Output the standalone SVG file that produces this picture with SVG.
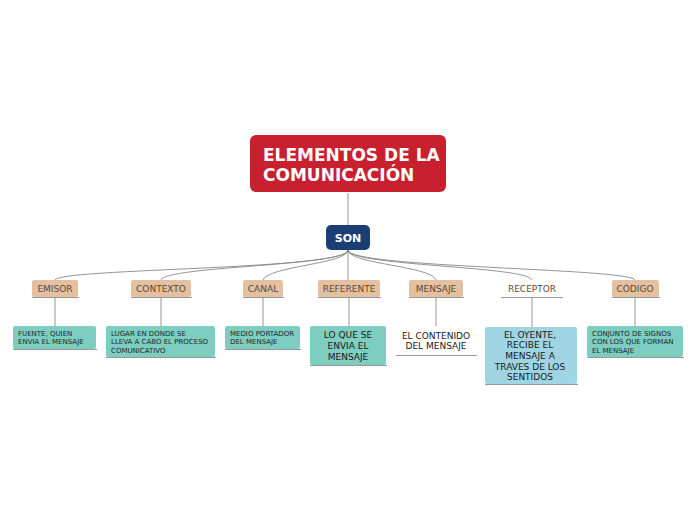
<svg xmlns="http://www.w3.org/2000/svg" width="696" height="520" viewBox="0 0 696 520">
<style>
text{font-family:"DejaVu Sans",Verdana,sans-serif}
.cat{fill:#e3c0a0}
.ct{font-size:9px;fill:#5a4a3a;text-anchor:middle}
.ul{stroke:#999;stroke-width:1.2}
.c{fill:none;stroke:#888;stroke-width:0.9}
.t7{font-size:7px;fill:#1a2a2a}
.t9{font-size:9px;fill:#1a1a1a;text-anchor:middle}
.teal{fill:#7dcdc1}
</style>
<rect width="696" height="520" fill="#fff"/>
<g id="connectors">
<path class="c" d="M348 193V225"/>
<path class="c" d="M348 250C348 270 60 268 55 280"/>
<path class="c" d="M348 250C348 266 165 266 161 280"/>
<path class="c" d="M348 250C348 264 268 266 263 280"/>
<path class="c" d="M348 250V280"/>
<path class="c" d="M348 250C348 264 432 266 436 280"/>
<path class="c" d="M348 250C348 266 528 266 532 280"/>
<path class="c" d="M348 250C348 268 630 268 635 280"/>
<path class="c" d="M55 298V326M161 298V326M263 298V326M349 298V326M436 298V326M532 298V327M635 298V326"/>
</g>
<g id="title"><rect x="250" y="135" width="196" height="57" rx="6" fill="#c8202f"/>
<text x="263" y="161" font-size="17" font-weight="bold" fill="#fff">ELEMENTOS DE LA</text>
<text x="263" y="181" font-size="17" font-weight="bold" fill="#fff">COMUNICACIÓN</text></g>
<g id="son"><rect x="326" y="225" width="44" height="25" rx="5" fill="#1b3f73"/>
<text x="348" y="242" font-size="11" font-weight="bold" fill="#fff" text-anchor="middle">SON</text></g>
<g id="emisor"><rect class="cat" x="32" y="280" width="46" height="17" rx="2"/><path class="ul" d="M32 297.5H79"/><text class="ct" x="55" y="292">EMISOR</text></g>
<g id="contexto"><rect class="cat" x="131" y="280" width="60" height="17" rx="2"/><path class="ul" d="M131 297.5H192"/><text class="ct" x="161" y="292">CONTEXTO</text></g>
<g id="canal"><rect class="cat" x="243" y="280" width="40" height="17" rx="2"/><path class="ul" d="M243 297.5H284"/><text class="ct" x="263" y="292">CANAL</text></g>
<g id="referente"><rect class="cat" x="318" y="280" width="62" height="17" rx="2"/><path class="ul" d="M318 297.5H381"/><text class="ct" x="349" y="292">REFERENTE</text></g>
<g id="mensaje"><rect class="cat" x="409" y="280" width="54" height="17" rx="2"/><path class="ul" d="M409 297.5H464"/><text class="ct" x="436" y="292">MENSAJE</text></g>
<g id="receptor"><path class="ul" d="M501 297.5H563"/><text class="ct" x="532" y="292">RECEPTOR</text></g>
<g id="codigo"><rect class="cat" x="612" y="280" width="47" height="17" rx="2"/><path class="ul" d="M612 297.5H660"/><text class="ct" x="635" y="292">CÓDIGO</text></g>
<g id="fuente"><rect class="teal" x="13" y="326" width="83" height="23" rx="2"/><path class="ul" d="M13 349.5H97"/><text class="t7" x="18" y="336">FUENTE, QUIEN</text><text class="t7" x="18" y="344">ENVIA EL MENSAJE</text></g>
<g id="lugar"><rect class="teal" x="106" y="326" width="109" height="31" rx="2"/><path class="ul" d="M106 357.5H216"/><text class="t7" x="111" y="336">LUGAR EN DONDE SE</text><text class="t7" x="111" y="344">LLEVA A CABO EL PROCESO</text><text class="t7" x="111" y="353">COMUNICATIVO</text></g>
<g id="medio"><rect class="teal" x="225" y="326" width="75" height="23" rx="2"/><path class="ul" d="M225 349.5H301"/><text class="t7" x="230" y="336">MEDIO PORTADOR</text><text class="t7" x="230" y="344">DEL MENSAJE</text></g>
<g id="loque"><rect class="teal" x="310" y="326" width="76" height="39" rx="2"/><path class="ul" d="M310 365.5H387"/><text class="t9" x="348" y="338">LO QUE SE</text><text class="t9" x="348" y="349">ENVIA EL</text><text class="t9" x="348" y="360">MENSAJE</text></g>
<g id="contenido"><path class="ul" d="M396 355.5H477"/><text class="t9" x="436" y="339">EL CONTENIDO</text><text class="t9" x="436" y="349">DEL MENSAJE</text></g>
<g id="oyente"><rect x="485" y="327" width="92" height="57" rx="2" fill="#9fd5e3"/><path class="ul" d="M485 384.5H578"/><text class="t9" x="530" y="338">EL OYENTE,</text><text class="t9" x="530" y="348">RECIBE EL</text><text class="t9" x="530" y="359">MENSAJE A</text><text class="t9" x="530" y="370">TRAVES DE LOS</text><text class="t9" x="530" y="380">SENTIDOS</text></g>
<g id="conjunto"><rect class="teal" x="587" y="326" width="96" height="31" rx="2"/><path class="ul" d="M587 357.5H684"/><text class="t7" x="592" y="336">CONJUNTO DE SIGNOS</text><text class="t7" x="592" y="344">CON LOS QUE FORMAN</text><text class="t7" x="592" y="353">EL MENSAJE</text></g>
</svg>
